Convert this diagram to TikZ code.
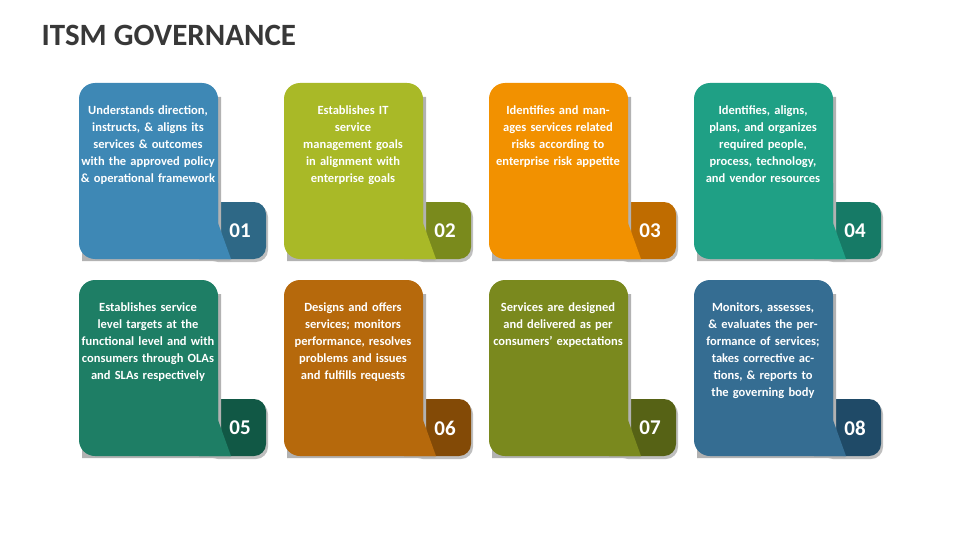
\documentclass[tikz,border=0pt]{standalone}
\usepackage{fontspec}
\setmainfont{Carlito}
\begin{document}
\begin{tikzpicture}[x=1pt,y=-1pt,
  cardtext/.style={anchor=north,text width=135pt,align=center,text=white,font=\bfseries\fontsize{12.5}{17}\selectfont,inner sep=0pt},
  numtext/.style={text=white,font=\bfseries\fontsize{21}{22}\selectfont}]
\useasboundingbox (0,0) rectangle (960,540);
\node[anchor=west,text=black!78,font=\bfseries\fontsize{31}{34}\selectfont] (title) at (38,35) {ITSM GOVERNANCE};
\newcommand{\card}[7]{%
  \begin{scope}[shift={(#1,#2)}]
  \fill[black!25,rounded corners=12] (127,122) rectangle (189,179);
  \fill[#4,rounded corners=12] (125,119) rectangle (187,176);
  \fill[black!30] (3,14) -- (3,178) -- (152,178) .. controls (146,176) and (142,170) .. (142,150) -- (142,14) -- cycle;
  \fill[#3,rounded corners=16] (139,140) -- (139,0) -- (0,0) -- (0,176) -- (152,176);
  \fill[#3] (139,100) -- (139,140) .. controls (139,166) and (143,174) .. (152,176) -- (120,176) -- (120,100) -- cycle;
  \node[cardtext] (t#7) at (69,23) {#5};
  \node[numtext] (n#7) at (161,148) {#6};
  \end{scope}}
\definecolor{l1}{HTML}{3E88B5}\definecolor{d1}{HTML}{2E6886}
\definecolor{l2}{HTML}{A9B927}\definecolor{d2}{HTML}{7A8A1C}
\definecolor{l3}{HTML}{F29100}\definecolor{d3}{HTML}{BF6C00}
\definecolor{l4}{HTML}{1FA085}\definecolor{d4}{HTML}{167A66}
\definecolor{l5}{HTML}{1E7E65}\definecolor{d5}{HTML}{115845}
\definecolor{l6}{HTML}{B6690C}\definecolor{d6}{HTML}{834A06}
\definecolor{l7}{HTML}{7A891E}\definecolor{d7}{HTML}{566215}
\definecolor{l8}{HTML}{356D92}\definecolor{d8}{HTML}{1F4A67}
\card{79}{83}{l1}{d1}{Understands direction, instructs, \& aligns its services \& outcomes with the approved policy \& operational framework}{01}{a}
\card{284}{83}{l2}{d2}{Establishes IT\\ service\\ management goals in alignment with enterprise goals}{02}{b}
\card{489}{83}{l3}{d3}{Identifies and manages services related risks according to enterprise risk appetite}{03}{c}
\card{694}{83}{l4}{d4}{Identifies, aligns, plans, and organizes required people, process, technology, and vendor resources}{04}{d}
\card{79}{280}{l5}{d5}{Establishes service level targets at the functional level and with consumers through OLAs and SLAs respectively}{05}{e}
\card{284}{280}{l6}{d6}{Designs and offers services; monitors performance, resolves problems and issues and fulfills requests}{06}{f}
\card{489}{280}{l7}{d7}{Services are designed and delivered as per consumers’ expectations}{07}{g}
\card{694}{280}{l8}{d8}{Monitors, assesses, \& evaluates the performance of services; takes corrective actions, \& reports to the governing body}{08}{h}
\end{tikzpicture}
\end{document}
